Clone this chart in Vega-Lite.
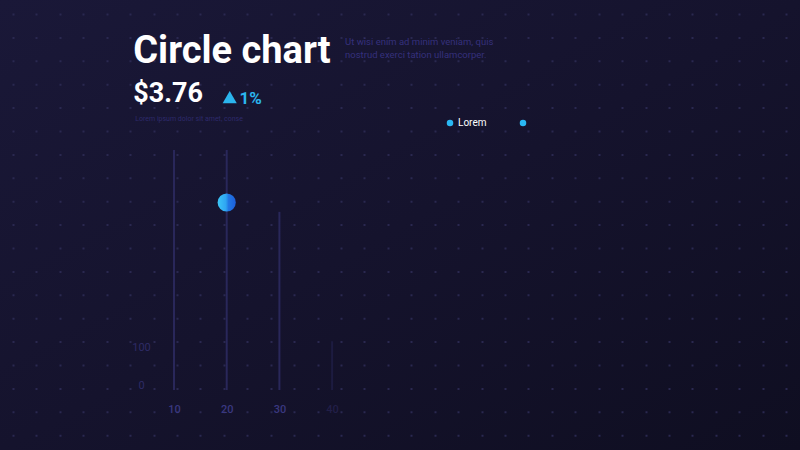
{
  "$schema": "https://vega.github.io/schema/vega-lite/v6.json",
  "width": 800,
  "height": 450,
  "autosize": {"type": "none"},
  "padding": 0,
  "background": "#15132e",
  "view": {
    "stroke": null,
    "fill": {
      "gradient": "linear",
      "x1": 0, "y1": 0, "x2": 1, "y2": 1,
      "stops": [
        {"offset": 0, "color": "#1a1838"},
        {"offset": 0.5, "color": "#15132d"},
        {"offset": 1, "color": "#0f0e21"}
      ]
    }
  },
  "datasets": {
    "lines": [
      {"x": 10, "value": 640},
      {"x": 20, "value": 640},
      {"x": 30, "value": 475},
      {"x": 40, "value": 130}
    ],
    "points": [
      {"x": 20, "value": 500, "series": "Lorem"}
    ]
  },
  "data": {"name": "lines"},
  "layer": [
    {
      "mark": {"type": "rule", "opacity": 0},
      "encoding": {
        "x": {
          "field": "x",
          "type": "quantitative",
          "axis": {
            "orient": "bottom",
            "values": [-20.55, -16.1, -11.66, -7.21, -2.77, 1.68, 6.13, 10.57, 15.02, 19.46, 23.91, 28.36, 32.8, 37.25, 41.69, 46.14, 50.59, 55.03, 59.48, 63.92, 68.37, 72.82, 77.26, 81.71, 86.15, 90.6, 95.05, 99.49, 103.94, 108.38, 112.83, 117.28, 121.72, 126.17],
            "grid": true,
            "gridColor": "#2a2850",
            "gridWidth": 2,
            "gridDash": [2, 21.4],
            "gridDashOffset": 10.4,
            "labels": false,
            "ticks": false,
            "domain": false,
            "title": null
          }
        },
        "y": {"field": "value", "type": "quantitative", "axis": null}
      }
    },
    {
      "mark": {"type": "rule", "strokeWidth": 2, "color": "#29275a"},
      "encoding": {
        "x": {
          "field": "x",
          "type": "quantitative",
          "scale": {"domain": [-23.02, 128.79], "nice": false, "zero": false},
          "axis": {
            "orient": "bottom",
            "offset": -41,
            "values": [10, 20, 30, 40],
            "grid": false,
            "ticks": false,
            "tickSize": 0,
            "domain": false,
            "labelPadding": 0,
            "labelBaseline": "middle",
            "labelFlush": false,
            "labelFontSize": 11,
            "labelFontWeight": 500,
            "labelColor": {"condition": {"test": "datum.value == 40", "value": "#221f48"}, "value": "#3a3880"},
            "title": null
          }
        },
        "y": {
          "field": "value",
          "type": "quantitative",
          "scale": {"domain": [-160, 1040], "nice": false, "zero": false},
          "axis": {
            "orient": "left",
            "offset": -141,
            "values": [0, 100],
            "grid": false,
            "ticks": false,
            "tickSize": 0,
            "domain": false,
            "labelPadding": 0,
            "labelAlign": "center",
            "labelOffset": -5,
            "labelFontSize": 11,
            "labelColor": "#2e2b66",
            "title": null
          }
        },
        "y2": {"datum": 0},
        "opacity": {"condition": {"test": "datum.x == 40", "value": 0.45}, "value": 1}
      }
    },
    {
      "data": {"name": "points"},
      "mark": {"type": "circle", "opacity": 0},
      "encoding": {
        "x": {"field": "x", "type": "quantitative", "axis": null},
        "y": {"field": "value", "type": "quantitative", "axis": null},
        "color": {
          "field": "series",
          "type": "nominal",
          "scale": {"domain": ["Lorem", "Ipsum"], "range": ["#2ab8f4", "#2ab8f4"]},
          "legend": {
            "title": null,
            "orient": "none",
            "legendX": 445,
            "legendY": 118,
            "direction": "horizontal",
            "padding": 0,
            "symbolType": "circle",
            "symbolSize": 42,
            "symbolOpacity": 1,
            "labelOffset": 3,
            "columnPadding": 31,
            "labelFontSize": 10,
            "labelFont": "Roboto",
            "labelColor": "#ffffff",
            "labelExpr": "datum.label == 'Lorem' ? 'Lorem' : ''"
          }
        }
      }
    },
    {
      "data": {"name": "points"},
      "mark": {
        "type": "circle",
        "size": 330,
        "opacity": 1,
        "color": {
          "gradient": "linear",
          "x1": 0, "y1": 0, "x2": 1, "y2": 0,
          "stops": [
            {"offset": 0, "color": "#3cc6f7"},
            {"offset": 0.45, "color": "#2fa6f2"},
            {"offset": 0.6, "color": "#2278e4"},
            {"offset": 1, "color": "#1c5fdc"}
          ]
        }
      },
      "encoding": {
        "x": {"field": "x", "type": "quantitative", "axis": null},
        "y": {"field": "value", "type": "quantitative", "axis": null}
      }
    },
    {
      "data": {"values": [{"t": "Circle chart"}]},
      "mark": {"type": "text", "align": "left", "baseline": "alphabetic", "fontSize": 38, "fontWeight": "bold", "color": "#ffffff", "font": "Roboto"},
      "encoding": {
        "x": {"datum": 2.26, "type": "quantitative", "axis": null},
        "y": {"datum": 873, "type": "quantitative", "axis": null},
        "text": {"field": "t"}
      }
    },
    {
      "data": {"values": [{"t": "note"}]},
      "mark": {"type": "text", "align": "left", "baseline": "alphabetic", "fontSize": 9.5, "lineHeight": 13, "color": "#35307c", "font": "Roboto"},
      "encoding": {
        "x": {"datum": 42.45, "type": "quantitative", "axis": null},
        "y": {"datum": 920, "type": "quantitative", "axis": null},
        "text": {"value": ["Ut wisi enim ad minim veniam, quis", "nostrud exerci tation ullamcorper."]}
      }
    },
    {
      "data": {"values": [{"t": "$3.76"}]},
      "mark": {"type": "text", "align": "left", "baseline": "alphabetic", "fontSize": 27, "fontWeight": "bold", "color": "#ffffff", "font": "Roboto"},
      "encoding": {
        "x": {"datum": 2.26, "type": "quantitative", "axis": null},
        "y": {"datum": 768, "type": "quantitative", "axis": null},
        "text": {"field": "t"}
      }
    },
    {
      "data": {"values": [{"t": "up"}]},
      "mark": {"type": "point", "shape": "triangle-up", "filled": true, "size": 200, "opacity": 1, "color": "#2bb5ee"},
      "encoding": {
        "x": {"datum": 20.57, "type": "quantitative", "axis": null},
        "y": {"datum": 781, "type": "quantitative", "axis": null}
      }
    },
    {
      "data": {"values": [{"t": "1%"}]},
      "mark": {"type": "text", "align": "left", "baseline": "alphabetic", "fontSize": 17, "fontWeight": "bold", "color": "#2bb5ee", "font": "Roboto"},
      "encoding": {
        "x": {"datum": 22.45, "type": "quantitative", "axis": null},
        "y": {"datum": 763, "type": "quantitative", "axis": null},
        "text": {"field": "t"}
      }
    },
    {
      "data": {"values": [{"t": "Lorem ipsum dolor sit amet, conse"}]},
      "mark": {"type": "text", "align": "left", "baseline": "alphabetic", "fontSize": 7, "color": "#2e2a6b", "font": "Roboto"},
      "encoding": {
        "x": {"datum": 2.64, "type": "quantitative", "axis": null},
        "y": {"datum": 717, "type": "quantitative", "axis": null},
        "text": {"field": "t"}
      }
    }
  ],
  "resolve": {"axis": {"x": "independent", "y": "independent"}},
  "config": {
    "font": "Roboto",
    "axis": {"labelFont": "Roboto"}
  }
}
